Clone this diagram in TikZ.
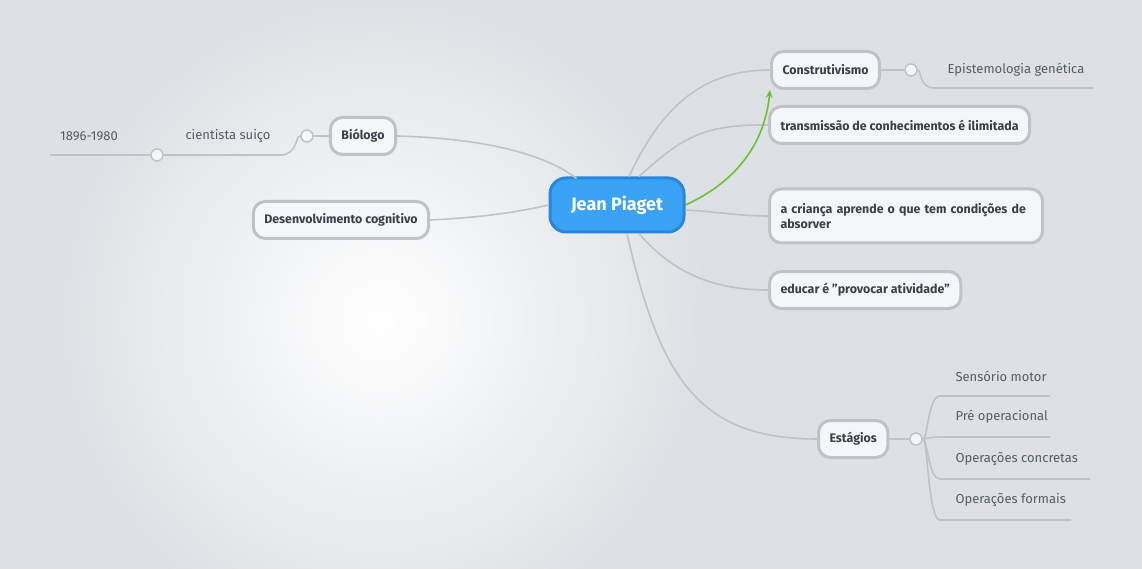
\documentclass[tikz,border=0pt]{standalone}
\usepackage{fontspec}
\setmainfont{Fira Sans}
\usetikzlibrary{arrows.meta}
\definecolor{bg}{HTML}{DDE0E4}
\definecolor{edge}{HTML}{C0C2C5}
\definecolor{tbox}{HTML}{F4F6FA}
\definecolor{txt}{HTML}{3A3F48}
\definecolor{cblue}{HTML}{3AA3F6}
\definecolor{cblueb}{HTML}{2A86DC}
\definecolor{grn}{HTML}{6CC22E}
\tikzset{
 topic/.style={draw=edge,line width=3pt,fill=tbox,rounded corners=12pt,font=\fontsize{12.4}{15}\selectfont\bfseries,text=txt,minimum height=37pt,inner xsep=11pt},
 sub/.style={font=\fontsize{13}{15}\selectfont,text=txt!85},
 conn/.style={draw=edge,line width=1.6pt},
 dot/.style={circle,draw=edge,line width=1.5pt,fill=tbox,minimum size=12pt,inner sep=0pt}
}
\begin{document}
\begin{tikzpicture}[x=1pt,y=-1pt]
\useasboundingbox (0,0) rectangle (1142,569);
\begin{scope}
\clip (0,0) rectangle (1142,569);
\fill[bg] (0,0) rectangle (1142,569);
\shade[inner color=white,outer color=bg] (380,320) circle (330);
\end{scope}
% center
\node[draw=cblueb,line width=3pt,fill=cblue,rounded corners=16pt,minimum width=134pt,minimum height=54pt,font=\fontsize{18}{20}\selectfont\bfseries,text=white] (c) at (617,205) {Jean Piaget};
% topics
\node[topic,anchor=west] (con) at (770,70) {Construtivismo};
\node[topic,anchor=west] (tra) at (768,125) {transmissão de conhecimentos é ilimitada};
\node[topic,anchor=west,minimum width=273pt,minimum height=54pt,align=left,text width=251pt] (cri) at (768,216) {a criança aprende o que tem condições de\\absorver};
\node[topic,anchor=west] (edu) at (768,290) {educar é "provocar atividade"};
\node[topic,anchor=west] (est) at (817,439) {Estágios};
\node[topic,anchor=east] (bio) at (397,136) {Biólogo};
\node[topic,anchor=east] (des) at (430,220) {Desenvolvimento cognitivo};
% connectors
\draw[conn] (c.north west)+(28,2) .. controls (540,150) and (470,138) .. (bio.east);
\draw[conn] (c.west) .. controls (510,214) and (470,218) .. (des.east);
\draw[conn] (c.north)+(12,0) .. controls (660,110) and (700,70) .. (con.west);
\draw[conn] (c.north)+(22,0) .. controls (680,140) and (700,124) .. (tra.west);
\draw[conn] (c.east)+(0,5) .. controls (720,212) and (740,216) .. (cri.west);
\draw[conn] (c.south)+(22,0) .. controls (670,270) and (710,290) .. (edu.west);
\draw[conn] (c.south)+(10,0) .. controls (660,380) and (700,439) .. (est.west);
\draw[grn,line width=1.6pt,-{Stealth[length=8pt,width=7pt]}] (c.east) .. controls (740,180) and (765,140) .. (con.south west);
% Construtivismo sub
\node[dot] (d1) at (911,70) {};
\draw[conn] (con.east) -- (d1);
\coordinate (u1) at (1093,88);
\draw[conn] (d1.east) .. controls (922,70) and (918,88) .. (935,88) -- (u1);
\node[sub] at (1016,70) {Epistemologia genética};
% Biologo sub
\node[dot] (d2) at (307,136) {};
\draw[conn] (bio.west) -- (d2);
\node[dot] (d3) at (157,155) {};
\draw[conn] (d2.west) .. controls (295,136) and (298,155) .. (280,155) -- (d3.east);
\coordinate (u3) at (50,155);
\draw[conn] (d3.west) -- (u3);
\node[sub] at (228,136) {cientista suiço};
\node[sub] at (89,136) {1896-1980};
% Estagios sub
\node[dot] (d4) at (916,439) {};
\draw[conn] (est.east) -- (d4);
\foreach \y/\e/\t in {396/1050/Sensório motor,437/1050/Pré operacional,479/1090/Operações concretas,520/1071/Operações formais}{
 \draw[conn] (d4.east) .. controls (928,439) and (928,\y) .. (940,\y) -- (\e,\y);
 \node[sub,anchor=west] at (952,\y-20) {\t};
}
\end{tikzpicture}
\end{document}
